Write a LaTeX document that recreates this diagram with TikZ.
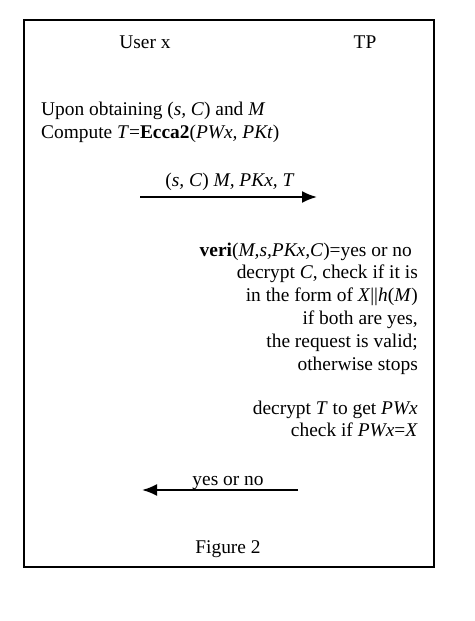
\documentclass[tikz,border=0pt]{standalone}
\usepackage{fontspec}
\setmainfont{Liberation Serif}
\usetikzlibrary{arrows.meta}
\begin{document}
\begin{tikzpicture}[x=1pt,y=-1pt,
  txt/.style={inner sep=0pt, font=\fontsize{19.4}{22.8}\selectfont},
  msg/.style={line width=2pt, -{Latex[length=15pt,width=12pt]}}]
\useasboundingbox (0,0) rectangle (474,621);
\draw[line width=2pt] (24,20) rectangle (434,567);
\node[txt, anchor=base] (userx) at (145,48) {User x};
\node[txt, anchor=base] (tp) at (365,48) {TP};
\node[txt, anchor=north west, align=left] (obtain) at (41,102) {Upon obtaining (\textit{s, C}) and \textit{M}\\
Compute \textit{T}=\textbf{Ecca2}(\textit{PWx, PKt})};
\coordinate (m1s) at (140,197);
\coordinate (m1e) at (317,197);
\draw[msg] (m1s) -- (m1e);
\node[txt, anchor=base] (m1) at (230,186) {(\textit{s, C}) \textit{M, PKx, T}};
\node[txt, anchor=north east, align=right] (veri) at (418,242.5) {\textbf{veri}(\textit{M,s,PKx,C})=yes or no\hspace*{6pt}\\
decrypt \textit{C}, check if it is\\
in the form of \textit{X}||\textit{h}(\textit{M})\\
if both are yes,\\
the request is valid;\\
otherwise stops};
\node[txt, anchor=north east, align=right] (check) at (418,400.5) {decrypt \textit{T} to get \textit{PWx}\\
check if \textit{PWx}=\textit{X}};
\coordinate (m2s) at (298,490);
\coordinate (m2e) at (142,490);
\draw[msg] (m2s) -- (m2e);
\node[txt, anchor=base] (m2) at (228,485) {yes or no};
\node[txt, anchor=base] (fig) at (228,553) {Figure 2};
\end{tikzpicture}
\end{document}
